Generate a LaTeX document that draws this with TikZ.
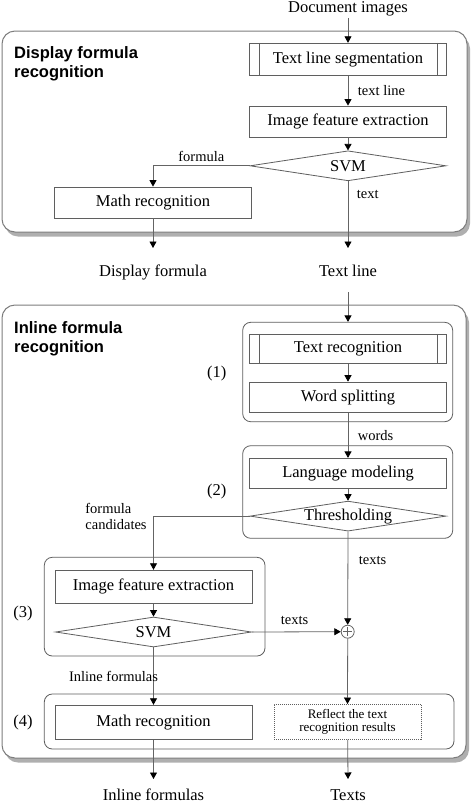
\documentclass[tikz,border=0pt]{standalone}
\usepackage{fontspec}
\setmainfont{Liberation Serif}
\newfontfamily\titlefont{Liberation Sans}
\usetikzlibrary{shapes.geometric, arrows.meta, positioning, fit, shadows}
\definecolor{linegray}{RGB}{100,100,100}
\definecolor{boxgray}{RGB}{95,95,95}
\definecolor{panelgray}{RGB}{125,125,125}
\definecolor{shadowgray}{RGB}{175,175,175}

\begin{document}
\begin{tikzpicture}[
        x=1pt, y=1pt,
        node distance=12pt,
        proc/.style={rectangle, draw=boxgray, line width=0.8pt, minimum width=197pt, minimum height=31pt, inner sep=0pt, align=center, font=\fontsize{16.5pt}{19pt}\selectfont},
        decision/.style={diamond, draw=boxgray, line width=0.8pt, aspect=6.5, minimum width=196pt, minimum height=30pt, inner sep=0pt, font=\fontsize{16.5pt}{19pt}\selectfont},
        note/.style={rectangle, draw=boxgray, line width=0.6pt, dash pattern=on 1pt off 1pt, minimum width=147pt, minimum height=35pt, inner sep=0pt, align=center, font=\fontsize{13pt}{13.7pt}\selectfont},
        group/.style={rectangle, draw=boxgray, line width=0.8pt, rounded corners=8pt, inner sep=0pt},
        panel/.style={rectangle, draw=panelgray, line width=1pt, fill=white, rounded corners=13pt, inner sep=0pt, drop shadow={shadow xshift=3pt, shadow yshift=-4.5pt, fill=shadowgray, opacity=1}},
        title/.style={anchor=north west, inner sep=0pt, align=left, font=\fontsize{16.5pt}{18.5pt}\selectfont\titlefont\bfseries},
        term/.style={inner sep=1.5pt, font=\fontsize{16.5pt}{19pt}\selectfont},
        lbl/.style={inner sep=1.5pt, font=\fontsize{14.5pt}{16pt}\selectfont},
        arr/.style={draw=linegray, line width=0.8pt, -{Triangle[width=7pt, length=6.5pt, color=black]}},
        sum/.style={circle, draw=linegray, line width=0.8pt, fill=white, minimum size=13pt, inner sep=0pt}
    ]
        \useasboundingbox (0,0) rectangle (474,-804);

        % panels
        \node[panel, fit={(2,-31) (467,-232)}] (disppanel) {};
        \node[panel, fit={(2,-305) (466,-758)}] (inlpanel) {};
        \node[title] (disptitle) at (14,-46.5) {Display formula\\recognition};
        \node[title] (inltitle) at (14,-321.5) {Inline formula\\recognition};

        % display formula recognition
        \node[term, anchor=base] (docimg) at (348,-12.7) {Document images};
        \node[proc, minimum height=32pt] (seg) at (348,-59.2) {Text line segmentation};
        \node[proc, below=30pt of seg] (feat) {Image feature extraction};
        \node[decision, below=13pt of feat] (svm) {SVM};
        \node[proc] (mathd) at (153,-202.5) {Math recognition};
        \node[term, anchor=base] (dispterm) at (153,-276) {Display formula};
        \node[term, anchor=base] (lineterm) at (348,-276) {Text line};
        \coordinate (dispout) at (153,-248);
        \coordinate (lineout) at (348,-248);
        \coordinate (linein) at (348,-292);

        % inline formula recognition
        \node[group, fit={(242.7,-322.3) (452.7,-421.7)}] (grp1) {};
        \node[group, fit={(242.7,-445.7) (452.7,-538.3)}] (grp2) {};
        \node[group, fit={(44.3,-557.3) (265,-656)}] (grp3) {};
        \node[group, fit={(44.3,-694) (454,-749)}] (grp4) {};
        \node[proc, minimum height=29pt] (txtrec) at (348,-348.8) {Text recognition};
        \node[proc, below=18pt of txtrec, minimum height=30.4pt] (wsplit) {Word splitting};
        \node[proc, below=45pt of wsplit, minimum height=30pt] (lm) {Language modeling};
        \node[decision, below=12pt of lm] (thr) {Thresholding};
        \node[proc, minimum height=33pt] (ife) at (153.5,-586.7) {Image feature extraction};
        \node[decision, below=13pt of ife] (svmi) {SVM};
        \node[sum] (plus) at (347.7,-631.7) {};
        \node[proc, minimum height=34pt] (mathi) at (153.5,-722.2) {Math recognition};
        \node[note] (reflect) at (347.5,-721.8) {Reflect the text\\recognition results};
        \node[term, anchor=base] (inlterm) at (153.5,-800) {Inline formulas};
        \node[term, anchor=base] (textsterm) at (348,-800) {Texts};
        \coordinate (inlout) at (153.5,-779);
        \coordinate (textout) at (348,-779);

        \node[term] (stage1) at (216.7,-374) {(1)};
        \node[term] (stage2) at (216.7,-491.7) {(2)};
        \node[term] (stage3) at (23,-613.3) {(3)};
        \node[term] (stage4) at (23,-722.8) {(4)};

        % double bars
        \foreach \n in {seg, txtrec} {
            \draw[boxgray, line width=0.8pt] ([xshift=10pt]\n.north west) -- ([xshift=10pt]\n.south west);
            \draw[boxgray, line width=0.8pt] ([xshift=-10pt]\n.north east) -- ([xshift=-10pt]\n.south east);
        }
        % plus sign
        \draw[linegray, line width=0.8pt] ([yshift=-2.5pt]plus.north) -- ([yshift=2.5pt]plus.south);
        \draw[linegray, line width=0.8pt] ([xshift=2.5pt]plus.west) -- ([xshift=-2.5pt]plus.east);

        % connectors, top
        \draw[arr] (docimg) -- (seg);
        \draw[arr] (seg) -- node[lbl, right=8pt] {text line} (feat);
        \draw[arr] (feat) -- (svm);
        \draw[arr] (svm.west) -| node[lbl, above=2pt, pos=0.25] {formula} (mathd.north);
        \draw[arr] (svm.south) -- node[lbl, right=7pt, pos=0.2] {text} (lineout);
        \draw[arr] (mathd) -- (dispout);

        % connectors, bottom
        \draw[arr] (linein) -- (linein |- grp1.north);
        \draw[arr] (txtrec) -- (wsplit);
        \draw[arr] (wsplit) -- node[lbl, right=8pt] {words} (lm);
        \draw[arr] (lm) -- (thr);
        \draw[arr] (thr.west) -| node[lbl, left=5pt, pos=0.5, align=left] {formula\\candidates} (ife.north);
        \draw[arr] (ife) -- (svmi);
        \draw[arr] (thr.south) -- node[lbl, right=9pt, pos=0.31] {texts} (plus.north);
        \draw[arr] (svmi.east) -- node[lbl, above=5.5pt, pos=0.48] {texts} (plus.west);
        \draw[arr] (plus.south) -- (reflect.north);
        \draw[arr] (svmi.south) -- node[lbl, pos=0.5, xshift=-40pt] {Inline formulas} (mathi.north);
        \draw[arr] (mathi) -- (inlout);
        \draw[arr] (reflect) -- (textout);
    \end{tikzpicture}
\end{document}
